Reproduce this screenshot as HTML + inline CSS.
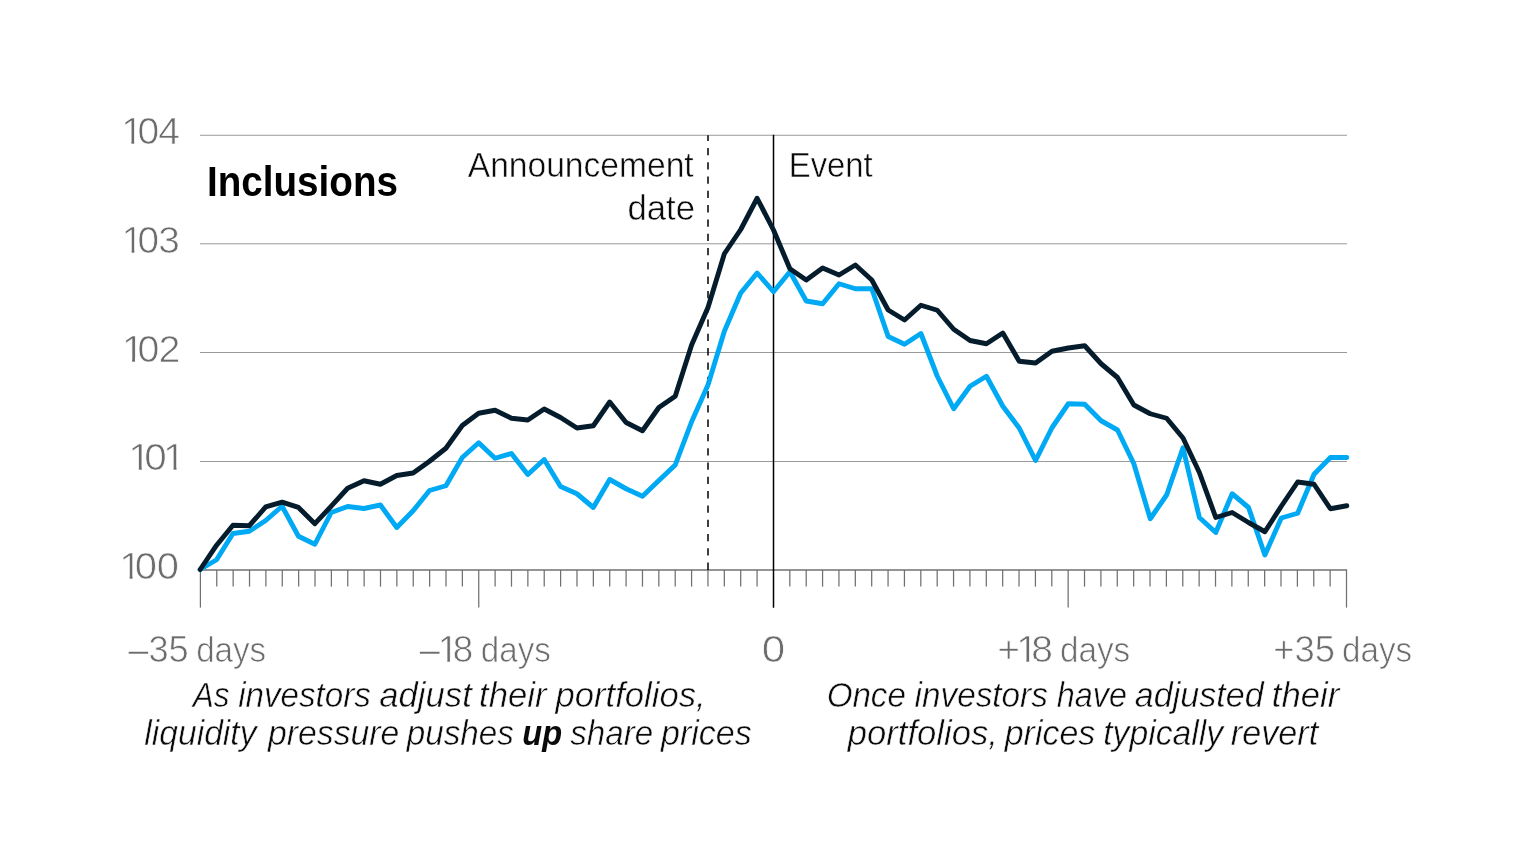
<!DOCTYPE html>
<html><head><meta charset="utf-8"><title>Inclusions</title>
<style>
html,body{margin:0;padding:0;background:#fff;}
body{width:1536px;height:864px;overflow:hidden;font-family:"Liberation Sans",sans-serif;}
svg{display:block;}
text{font-family:"Liberation Sans",sans-serif;}
.ax{fill:#6c6c6c;stroke:#fff;stroke-width:0.7px;}
.lbl{fill:#0a0a0a;stroke:#fff;stroke-width:0.5px;}
.cap{fill:#0a0a0a;font-style:italic;stroke:#fff;stroke-width:0.5px;}
.cap .b{font-weight:bold;stroke:none;}
.ttl{fill:#000;font-weight:bold;}
</style></head><body>
<svg width="1536" height="864" viewBox="0 0 1536 864" >
<rect width="1536" height="864" fill="#fff"/>
<g stroke="#999" stroke-width="1" fill="none"><line x1="200" y1="135.25" x2="1347" y2="135.25"/><line x1="200" y1="243.80" x2="1347" y2="243.80"/><line x1="200" y1="352.50" x2="1347" y2="352.50"/><line x1="200" y1="461.50" x2="1347" y2="461.50"/></g>
<g stroke="#707070" stroke-width="1.25" fill="none"><line x1="199.8" y1="570.1" x2="1347.1" y2="570.1" stroke-width="1.5"/><line x1="200.40" y1="570" x2="200.40" y2="607.6"/><line x1="216.77" y1="570" x2="216.77" y2="586.6"/><line x1="233.15" y1="570" x2="233.15" y2="586.6"/><line x1="249.52" y1="570" x2="249.52" y2="586.6"/><line x1="265.89" y1="570" x2="265.89" y2="586.6"/><line x1="282.26" y1="570" x2="282.26" y2="586.6"/><line x1="298.64" y1="570" x2="298.64" y2="586.6"/><line x1="315.01" y1="570" x2="315.01" y2="586.6"/><line x1="331.38" y1="570" x2="331.38" y2="586.6"/><line x1="347.76" y1="570" x2="347.76" y2="586.6"/><line x1="364.13" y1="570" x2="364.13" y2="586.6"/><line x1="380.50" y1="570" x2="380.50" y2="586.6"/><line x1="396.87" y1="570" x2="396.87" y2="586.6"/><line x1="413.25" y1="570" x2="413.25" y2="586.6"/><line x1="429.62" y1="570" x2="429.62" y2="586.6"/><line x1="445.99" y1="570" x2="445.99" y2="586.6"/><line x1="462.37" y1="570" x2="462.37" y2="586.6"/><line x1="478.74" y1="570" x2="478.74" y2="607.6"/><line x1="495.11" y1="570" x2="495.11" y2="586.6"/><line x1="511.48" y1="570" x2="511.48" y2="586.6"/><line x1="527.86" y1="570" x2="527.86" y2="586.6"/><line x1="544.23" y1="570" x2="544.23" y2="586.6"/><line x1="560.60" y1="570" x2="560.60" y2="586.6"/><line x1="576.98" y1="570" x2="576.98" y2="586.6"/><line x1="593.35" y1="570" x2="593.35" y2="586.6"/><line x1="609.72" y1="570" x2="609.72" y2="586.6"/><line x1="626.09" y1="570" x2="626.09" y2="586.6"/><line x1="642.47" y1="570" x2="642.47" y2="586.6"/><line x1="658.84" y1="570" x2="658.84" y2="586.6"/><line x1="675.21" y1="570" x2="675.21" y2="586.6"/><line x1="691.59" y1="570" x2="691.59" y2="586.6"/><line x1="707.96" y1="570" x2="707.96" y2="586.6"/><line x1="724.33" y1="570" x2="724.33" y2="586.6"/><line x1="740.70" y1="570" x2="740.70" y2="586.6"/><line x1="757.08" y1="570" x2="757.08" y2="586.6"/><line x1="789.82" y1="570" x2="789.82" y2="586.6"/><line x1="806.20" y1="570" x2="806.20" y2="586.6"/><line x1="822.57" y1="570" x2="822.57" y2="586.6"/><line x1="838.94" y1="570" x2="838.94" y2="586.6"/><line x1="855.31" y1="570" x2="855.31" y2="586.6"/><line x1="871.69" y1="570" x2="871.69" y2="586.6"/><line x1="888.06" y1="570" x2="888.06" y2="586.6"/><line x1="904.43" y1="570" x2="904.43" y2="586.6"/><line x1="920.81" y1="570" x2="920.81" y2="586.6"/><line x1="937.18" y1="570" x2="937.18" y2="586.6"/><line x1="953.55" y1="570" x2="953.55" y2="586.6"/><line x1="969.92" y1="570" x2="969.92" y2="586.6"/><line x1="986.30" y1="570" x2="986.30" y2="586.6"/><line x1="1002.67" y1="570" x2="1002.67" y2="586.6"/><line x1="1019.04" y1="570" x2="1019.04" y2="586.6"/><line x1="1035.42" y1="570" x2="1035.42" y2="586.6"/><line x1="1051.79" y1="570" x2="1051.79" y2="586.6"/><line x1="1068.16" y1="570" x2="1068.16" y2="607.6"/><line x1="1084.53" y1="570" x2="1084.53" y2="586.6"/><line x1="1100.91" y1="570" x2="1100.91" y2="586.6"/><line x1="1117.28" y1="570" x2="1117.28" y2="586.6"/><line x1="1133.65" y1="570" x2="1133.65" y2="586.6"/><line x1="1150.03" y1="570" x2="1150.03" y2="586.6"/><line x1="1166.40" y1="570" x2="1166.40" y2="586.6"/><line x1="1182.77" y1="570" x2="1182.77" y2="586.6"/><line x1="1199.14" y1="570" x2="1199.14" y2="586.6"/><line x1="1215.52" y1="570" x2="1215.52" y2="586.6"/><line x1="1231.89" y1="570" x2="1231.89" y2="586.6"/><line x1="1248.26" y1="570" x2="1248.26" y2="586.6"/><line x1="1264.64" y1="570" x2="1264.64" y2="586.6"/><line x1="1281.01" y1="570" x2="1281.01" y2="586.6"/><line x1="1297.38" y1="570" x2="1297.38" y2="586.6"/><line x1="1313.75" y1="570" x2="1313.75" y2="586.6"/><line x1="1330.13" y1="570" x2="1330.13" y2="586.6"/><line x1="1346.50" y1="570" x2="1346.50" y2="607.6"/></g>
<line x1="708" y1="135.3" x2="708" y2="570" stroke="#000" stroke-width="1.5" stroke-dasharray="7.3 7" stroke-dashoffset="1.7"/>
<line x1="773.5" y1="134.7" x2="773.5" y2="607.8" stroke="#000" stroke-width="1.5"/>
<polyline points="200.20,569.50 216.58,559.75 232.96,533.50 249.34,531.25 265.72,520.50 282.10,506.25 298.48,536.25 314.86,544.25 331.24,512.50 347.62,506.50 364.00,508.50 380.38,505.00 396.76,527.50 413.14,510.75 429.52,490.50 445.90,485.75 462.28,457.50 478.66,442.75 495.04,458.25 511.42,453.50 527.80,474.50 544.18,459.50 560.56,486.50 576.94,493.75 593.32,507.50 609.70,479.50 626.08,488.75 642.46,496.25 658.84,480.50 675.22,465.00 691.60,421.75 707.98,385.00 724.36,331.25 740.74,293.00 757.12,273.00 773.50,291.75 789.88,271.75 806.26,301.00 822.64,303.75 839.02,283.75 855.40,288.75 871.78,288.75 888.16,336.50 904.54,344.25 920.92,333.50 937.30,376.25 953.68,408.75 970.06,386.25 986.44,376.25 1002.82,406.25 1019.20,428.00 1035.58,460.50 1051.96,427.75 1068.34,403.75 1084.72,404.25 1101.10,420.75 1117.48,430.00 1133.86,463.75 1150.24,518.75 1166.62,495.00 1183.00,447.75 1199.38,517.50 1215.76,532.50 1232.14,493.75 1248.52,507.50 1264.90,555.00 1281.28,518.00 1297.66,513.25 1314.04,474.25 1330.42,457.50 1346.80,457.50" fill="none" stroke="#00a9f4" stroke-width="4.9" stroke-linejoin="round" stroke-linecap="round"/>
<polyline points="200.20,569.50 216.58,545.20 232.96,525.20 249.34,525.70 265.72,506.95 282.10,502.20 298.48,507.45 314.86,523.70 331.24,506.20 347.62,488.25 364.00,480.75 380.38,484.25 396.76,475.50 413.14,473.00 429.52,461.25 445.90,448.25 462.28,425.50 478.66,413.25 495.04,410.25 511.42,418.25 527.80,420.00 544.18,409.00 560.56,417.50 576.94,428.00 593.32,425.75 609.70,402.00 626.08,422.50 642.46,430.75 658.84,407.50 675.22,396.25 691.60,345.00 707.98,307.50 724.36,253.75 740.74,229.50 757.12,198.25 773.50,230.00 789.88,268.75 806.26,280.00 822.64,268.00 839.02,275.00 855.40,265.00 871.78,280.00 888.16,310.00 904.54,320.00 920.92,305.25 937.30,310.25 953.68,329.25 970.06,340.50 986.44,343.75 1002.82,333.00 1019.20,361.25 1035.58,363.00 1051.96,351.25 1068.34,348.00 1084.72,345.75 1101.10,363.75 1117.48,377.50 1133.86,405.00 1150.24,413.75 1166.62,418.25 1183.00,438.00 1199.38,472.50 1215.76,517.50 1232.14,512.50 1248.52,522.50 1264.90,531.75 1281.28,506.25 1297.66,482.00 1314.04,484.25 1330.42,508.75 1346.80,505.75" fill="none" stroke="#051c2c" stroke-width="4.9" stroke-linejoin="round" stroke-linecap="round"/>
<text class="ax" font-size="37.0" transform="translate(0,144.00) scale(1.0579,1)" x="114.57 130.08 149.67">104</text>
<text class="ax" font-size="37.0" transform="translate(0,253.00) scale(1.0480,1)" x="115.97 131.29 150.96">103</text>
<text class="ax" font-size="37.0" transform="translate(0,362.00) scale(1.0635,1)" x="114.61 129.32 149.02">102</text>
<text class="ax" font-size="37.0" transform="translate(0,470.00) scale(1.0926,1)" x="117.48 131.93 149.24">101</text>
<text class="ax" font-size="37.0" transform="translate(0,579.00) scale(1.0797,1)" x="110.46 124.84 145.24">100</text>
<text class="ax" font-size="37.0" y="662.00"><tspan x="128.35" textLength="60.41" lengthAdjust="spacingAndGlyphs">–35</tspan></text>
<text class="ax" font-size="34.5" y="662.00"><tspan x="196.18" textLength="70.02" lengthAdjust="spacingAndGlyphs">days</tspan></text>
<text class="ax" font-size="37.0" transform="translate(0,662.00) scale(0.9939,1)" x="422.03 440.46 455.54">–18</text>
<text class="ax" font-size="34.5" y="662.00"><tspan x="480.83" textLength="69.97" lengthAdjust="spacingAndGlyphs">days</tspan></text>
<text class="ax" font-size="37.0" y="662.00"><tspan x="761.72" textLength="23.43" lengthAdjust="spacingAndGlyphs">0</tspan></text>
<text class="ax" font-size="37.0" transform="translate(0,662.00) scale(1.0547,1)" x="945.44 963.55 977.76">+18</text>
<text class="ax" font-size="34.5" y="662.00"><tspan x="1059.97" textLength="70.23" lengthAdjust="spacingAndGlyphs">days</tspan></text>
<text class="ax" font-size="37.0" y="662.00"><tspan x="1273.22" textLength="61.77" lengthAdjust="spacingAndGlyphs">+35</tspan></text>
<text class="ax" font-size="34.5" y="662.00"><tspan x="1342.08" textLength="70.13" lengthAdjust="spacingAndGlyphs">days</tspan></text>
<text class="ttl" font-size="42.0" y="196.00"><tspan x="206.91" textLength="191.15" lengthAdjust="spacingAndGlyphs">Inclusions</tspan></text>
<text class="lbl" font-size="34.5" y="177.00"><tspan x="467.76" textLength="225.90" lengthAdjust="spacingAndGlyphs">Announcement</tspan></text>
<text class="lbl" font-size="34.5" y="220.00"><tspan x="627.52" textLength="67.40" lengthAdjust="spacingAndGlyphs">date</tspan></text>
<text class="lbl" font-size="34.5" y="177.00"><tspan x="788.84" textLength="83.90" lengthAdjust="spacingAndGlyphs">Event</tspan></text>
<text class="cap" font-size="34.5" y="707.00"><tspan x="192.68" textLength="36.75" lengthAdjust="spacingAndGlyphs">As</tspan> <tspan x="238.14" textLength="132.75" lengthAdjust="spacingAndGlyphs">investors</tspan> <tspan x="379.33" textLength="92.46" lengthAdjust="spacingAndGlyphs">adjust</tspan> <tspan x="479.07" textLength="67.42" lengthAdjust="spacingAndGlyphs">their</tspan> <tspan x="555.55" textLength="150.04" lengthAdjust="spacingAndGlyphs">portfolios,</tspan></text>
<text class="cap" font-size="34.5" y="745.00"><tspan x="144.33" textLength="112.16" lengthAdjust="spacingAndGlyphs">liquidity</tspan> <tspan x="268.04" textLength="131.27" lengthAdjust="spacingAndGlyphs">pressure</tspan> <tspan x="406.74" textLength="107.15" lengthAdjust="spacingAndGlyphs">pushes</tspan> <tspan x="522.21" textLength="39.87" lengthAdjust="spacingAndGlyphs" class="b">up</tspan> <tspan x="570.21" textLength="82.96" lengthAdjust="spacingAndGlyphs">share</tspan> <tspan x="661.05" textLength="90.75" lengthAdjust="spacingAndGlyphs">prices</tspan></text>
<text class="cap" font-size="34.5" y="707.00"><tspan x="826.67" textLength="79.22" lengthAdjust="spacingAndGlyphs">Once</tspan> <tspan x="914.54" textLength="133.36" lengthAdjust="spacingAndGlyphs">investors</tspan> <tspan x="1056.73" textLength="70.17" lengthAdjust="spacingAndGlyphs">have</tspan> <tspan x="1134.75" textLength="128.83" lengthAdjust="spacingAndGlyphs">adjusted</tspan> <tspan x="1271.77" textLength="67.42" lengthAdjust="spacingAndGlyphs">their</tspan></text>
<text class="cap" font-size="34.5" y="745.00"><tspan x="847.85" textLength="149.94" lengthAdjust="spacingAndGlyphs">portfolios,</tspan> <tspan x="1004.74" textLength="90.55" lengthAdjust="spacingAndGlyphs">prices</tspan> <tspan x="1103.22" textLength="120.01" lengthAdjust="spacingAndGlyphs">typically</tspan> <tspan x="1230.77" textLength="87.36" lengthAdjust="spacingAndGlyphs">revert</tspan></text>
<g fill="#fff"><rect x="123.59" y="140.84" width="7.76" height="3.96"/><rect x="134.21" y="140.84" width="7.46" height="3.96"/><rect x="123.89" y="249.84" width="7.70" height="3.96"/><rect x="134.41" y="249.84" width="7.39" height="3.96"/><rect x="124.29" y="358.84" width="7.80" height="3.96"/><rect x="134.97" y="358.84" width="7.49" height="3.96"/><rect x="130.84" y="466.84" width="7.99" height="3.96"/><rect x="141.80" y="466.84" width="7.67" height="3.96"/><rect x="165.54" y="466.84" width="7.99" height="3.96"/><rect x="176.51" y="466.84" width="7.67" height="3.96"/><rect x="121.71" y="575.84" width="7.91" height="3.96"/><rect x="132.55" y="575.84" width="7.59" height="3.96"/><rect x="439.97" y="658.84" width="7.35" height="3.96"/><rect x="449.97" y="658.84" width="7.06" height="3.96"/><rect x="1018.63" y="658.84" width="7.74" height="3.96"/><rect x="1029.22" y="658.84" width="7.44" height="3.96"/></g>
</svg>
</body></html>
